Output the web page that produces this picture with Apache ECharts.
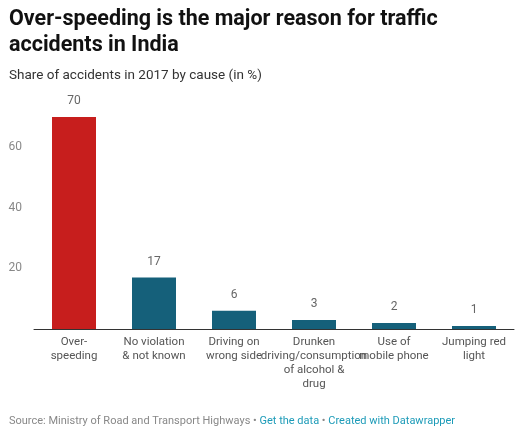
<!DOCTYPE html>
<html>
<head>
<meta charset="utf-8">
<script src="https://cdn.jsdelivr.net/npm/echarts@6/dist/echarts.min.js"></script>
<style>
  html, body { margin: 0; padding: 0; background: #fff; }
  #chart { width: 526px; height: 427px; }
</style>
</head>
<body>
<div id="chart"></div>
<script>
// 各原因占比
let causes = ['Over-\nspeeding', 'No violation\n& not known', 'Driving on\nwrong side',
    'Drunken\ndriving/consumption\nof alcohol &\ndrug', 'Use of\nmobile phone', 'Jumping red\nlight']
let shares = [70, 17, 6, 3, 2, 1]
let barColors = ['#c71e1d', '#15607a', '#15607a', '#15607a', '#15607a', '#15607a']
let yTicks = [20, 40, 60]

let chart = echarts.init(document.getElementById('chart'))
let dataList = []
for (let i = 0; i < shares.length; i++) {
    dataList.push({
        value: shares[i],
        itemStyle: { color: barColors[i] }
    })
}
let font = 'Roboto, sans-serif'
let option = {
    animation: false,
    title: [
        {
            text: 'Over-speeding is the major reason for traffic\naccidents in India',
            left: 4,
            top: 2,
            textStyle: { fontFamily: font, fontSize: 21.5, fontWeight: 'bold', color: '#111', lineHeight: 26 }
        },
        {
            text: 'Share of accidents in 2017 by cause (in %)',
            left: 4,
            top: 64,
            textStyle: { fontFamily: font, fontSize: 13.5, fontWeight: 'normal', color: '#333' }
        },
        {
            text: '{s|Source: Ministry of Road and Transport Highways • }{l|Get the data}{s| • }{l|Created with Datawrapper}',
            left: 4,
            top: 411,
            textStyle: {
                fontFamily: font,
                fontSize: 11,
                fontWeight: 'normal',
                rich: {
                    s: { fontFamily: font, fontSize: 11, fontWeight: 'normal', color: '#888' },
                    l: { fontFamily: font, fontSize: 11, fontWeight: 'normal', color: '#1d9bb8' }
                }
            }
        }
    ],
    grid: { left: 34, width: 480, top: 117, bottom: 98 },
    xAxis: {
        type: 'category',
        data: causes,
        axisLine: { lineStyle: { color: '#333', width: 1 } },
        axisTick: { show: false },
        axisLabel: {
            interval: 0,
            fontFamily: font,
            fontSize: 11.5,
            color: '#555',
            lineHeight: 14,
            margin: 6
        }
    },
    yAxis: {
        type: 'value',
        min: 0,
        max: 70,
        interval: 20,
        splitLine: { show: false },
        axisLine: { show: false },
        axisTick: { show: false },
        axisLabel: {
            fontFamily: font,
            fontSize: 12,
            color: '#888',
            margin: 12,
            formatter: function (v) {
                return yTicks.indexOf(v) >= 0 ? String(v) : ''
            }
        }
    },
    series: [
        {
            type: 'bar',
            data: dataList,
            barWidth: 44,
            label: {
                show: true,
                position: 'top',
                distance: 10,
                fontFamily: font,
                fontSize: 12,
                color: '#666'
            }
        }
    ]
}
chart.setOption(option)
</script>
</body>
</html>
